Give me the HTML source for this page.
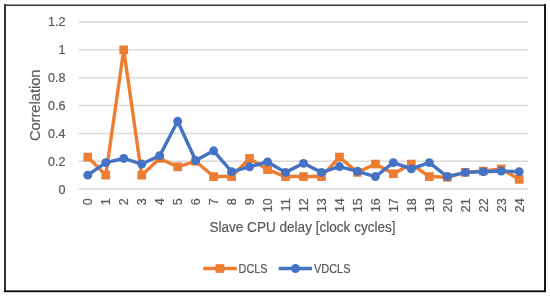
<!DOCTYPE html>
<html><head><meta charset="utf-8"><title>Chart</title>
<style>
html,body{margin:0;padding:0;background:#fff;}
body{width:550px;height:297px;overflow:hidden;}
svg{display:block;font-family:'Liberation Sans', Arial, sans-serif;}
text{stroke:#595959;stroke-width:0.2px;}
</style></head>
<body>
<svg width="550" height="297" viewBox="0 0 550 297">
<rect width="550" height="297" fill="#fff"/>
<line x1="78.80" y1="189.10" x2="528.20" y2="189.10" stroke="#D9D9D9" stroke-width="1.5"/>
<line x1="78.80" y1="161.25" x2="528.20" y2="161.25" stroke="#D9D9D9" stroke-width="1.5"/>
<line x1="78.80" y1="133.40" x2="528.20" y2="133.40" stroke="#D9D9D9" stroke-width="1.5"/>
<line x1="78.80" y1="105.55" x2="528.20" y2="105.55" stroke="#D9D9D9" stroke-width="1.5"/>
<line x1="78.80" y1="77.70" x2="528.20" y2="77.70" stroke="#D9D9D9" stroke-width="1.5"/>
<line x1="78.80" y1="49.85" x2="528.20" y2="49.85" stroke="#D9D9D9" stroke-width="1.5"/>
<line x1="78.80" y1="22.00" x2="528.20" y2="22.00" stroke="#D9D9D9" stroke-width="1.5"/>
<text x="65.6" y="193.64" text-anchor="end" font-size="12.6" fill="#595959">0</text>
<text x="65.6" y="165.79" text-anchor="end" font-size="12.6" fill="#595959">0.2</text>
<text x="65.6" y="137.94" text-anchor="end" font-size="12.6" fill="#595959">0.4</text>
<text x="65.6" y="110.09" text-anchor="end" font-size="12.6" fill="#595959">0.6</text>
<text x="65.6" y="82.24" text-anchor="end" font-size="12.6" fill="#595959">0.8</text>
<text x="65.6" y="54.39" text-anchor="end" font-size="12.6" fill="#595959">1</text>
<text x="65.6" y="25.64" text-anchor="end" font-size="12.6" fill="#595959">1.2</text>
<text transform="translate(92.32,198.3) rotate(-90)" x="0" y="0" text-anchor="end" font-size="12.6" fill="#595959">0</text>
<text transform="translate(110.30,198.3) rotate(-90)" x="0" y="0" text-anchor="end" font-size="12.6" fill="#595959">1</text>
<text transform="translate(128.28,198.3) rotate(-90)" x="0" y="0" text-anchor="end" font-size="12.6" fill="#595959">2</text>
<text transform="translate(146.25,198.3) rotate(-90)" x="0" y="0" text-anchor="end" font-size="12.6" fill="#595959">3</text>
<text transform="translate(164.23,198.3) rotate(-90)" x="0" y="0" text-anchor="end" font-size="12.6" fill="#595959">4</text>
<text transform="translate(182.20,198.3) rotate(-90)" x="0" y="0" text-anchor="end" font-size="12.6" fill="#595959">5</text>
<text transform="translate(200.18,198.3) rotate(-90)" x="0" y="0" text-anchor="end" font-size="12.6" fill="#595959">6</text>
<text transform="translate(218.16,198.3) rotate(-90)" x="0" y="0" text-anchor="end" font-size="12.6" fill="#595959">7</text>
<text transform="translate(236.13,198.3) rotate(-90)" x="0" y="0" text-anchor="end" font-size="12.6" fill="#595959">8</text>
<text transform="translate(254.11,198.3) rotate(-90)" x="0" y="0" text-anchor="end" font-size="12.6" fill="#595959">9</text>
<text transform="translate(272.08,198.3) rotate(-90)" x="0" y="0" text-anchor="end" font-size="12.6" fill="#595959">10</text>
<text transform="translate(290.06,198.3) rotate(-90)" x="0" y="0" text-anchor="end" font-size="12.6" fill="#595959">11</text>
<text transform="translate(308.04,198.3) rotate(-90)" x="0" y="0" text-anchor="end" font-size="12.6" fill="#595959">12</text>
<text transform="translate(326.01,198.3) rotate(-90)" x="0" y="0" text-anchor="end" font-size="12.6" fill="#595959">13</text>
<text transform="translate(343.99,198.3) rotate(-90)" x="0" y="0" text-anchor="end" font-size="12.6" fill="#595959">14</text>
<text transform="translate(361.96,198.3) rotate(-90)" x="0" y="0" text-anchor="end" font-size="12.6" fill="#595959">15</text>
<text transform="translate(379.94,198.3) rotate(-90)" x="0" y="0" text-anchor="end" font-size="12.6" fill="#595959">16</text>
<text transform="translate(397.92,198.3) rotate(-90)" x="0" y="0" text-anchor="end" font-size="12.6" fill="#595959">17</text>
<text transform="translate(415.89,198.3) rotate(-90)" x="0" y="0" text-anchor="end" font-size="12.6" fill="#595959">18</text>
<text transform="translate(433.87,198.3) rotate(-90)" x="0" y="0" text-anchor="end" font-size="12.6" fill="#595959">19</text>
<text transform="translate(451.84,198.3) rotate(-90)" x="0" y="0" text-anchor="end" font-size="12.6" fill="#595959">20</text>
<text transform="translate(469.82,198.3) rotate(-90)" x="0" y="0" text-anchor="end" font-size="12.6" fill="#595959">21</text>
<text transform="translate(487.80,198.3) rotate(-90)" x="0" y="0" text-anchor="end" font-size="12.6" fill="#595959">22</text>
<text transform="translate(505.77,198.3) rotate(-90)" x="0" y="0" text-anchor="end" font-size="12.6" fill="#595959">23</text>
<text transform="translate(523.75,198.3) rotate(-90)" x="0" y="0" text-anchor="end" font-size="12.6" fill="#595959">24</text>
<polyline points="87.79,157.07 105.76,175.17 123.74,49.85 141.72,175.17 159.69,158.47 177.67,166.82 195.64,161.25 213.62,176.57 231.60,176.57 249.57,158.47 267.55,169.60 285.52,176.57 303.50,176.57 321.48,176.57 339.45,157.07 357.43,172.39 375.40,164.03 393.38,173.78 411.36,164.03 429.33,176.57 447.31,177.26 465.28,172.39 483.26,171.00 501.24,168.91 519.21,179.35" fill="none" stroke="#ED7D31" stroke-width="3.4" stroke-linejoin="round" stroke-linecap="round"/>
<rect x="83.44" y="152.72" width="8.7" height="8.7" fill="#ED7D31"/>
<rect x="101.41" y="170.82" width="8.7" height="8.7" fill="#ED7D31"/>
<rect x="119.39" y="45.50" width="8.7" height="8.7" fill="#ED7D31"/>
<rect x="137.37" y="170.82" width="8.7" height="8.7" fill="#ED7D31"/>
<rect x="155.34" y="154.12" width="8.7" height="8.7" fill="#ED7D31"/>
<rect x="173.32" y="162.47" width="8.7" height="8.7" fill="#ED7D31"/>
<rect x="191.29" y="156.90" width="8.7" height="8.7" fill="#ED7D31"/>
<rect x="209.27" y="172.22" width="8.7" height="8.7" fill="#ED7D31"/>
<rect x="227.25" y="172.22" width="8.7" height="8.7" fill="#ED7D31"/>
<rect x="245.22" y="154.12" width="8.7" height="8.7" fill="#ED7D31"/>
<rect x="263.20" y="165.25" width="8.7" height="8.7" fill="#ED7D31"/>
<rect x="281.17" y="172.22" width="8.7" height="8.7" fill="#ED7D31"/>
<rect x="299.15" y="172.22" width="8.7" height="8.7" fill="#ED7D31"/>
<rect x="317.13" y="172.22" width="8.7" height="8.7" fill="#ED7D31"/>
<rect x="335.10" y="152.72" width="8.7" height="8.7" fill="#ED7D31"/>
<rect x="353.08" y="168.04" width="8.7" height="8.7" fill="#ED7D31"/>
<rect x="371.05" y="159.69" width="8.7" height="8.7" fill="#ED7D31"/>
<rect x="389.03" y="169.43" width="8.7" height="8.7" fill="#ED7D31"/>
<rect x="407.01" y="159.69" width="8.7" height="8.7" fill="#ED7D31"/>
<rect x="424.98" y="172.22" width="8.7" height="8.7" fill="#ED7D31"/>
<rect x="442.96" y="172.91" width="8.7" height="8.7" fill="#ED7D31"/>
<rect x="460.93" y="168.04" width="8.7" height="8.7" fill="#ED7D31"/>
<rect x="478.91" y="166.65" width="8.7" height="8.7" fill="#ED7D31"/>
<rect x="496.89" y="164.56" width="8.7" height="8.7" fill="#ED7D31"/>
<rect x="514.86" y="175.00" width="8.7" height="8.7" fill="#ED7D31"/>
<polyline points="87.79,175.17 105.76,162.64 123.74,158.47 141.72,164.03 159.69,155.68 177.67,121.29 195.64,160.55 213.62,150.81 231.60,171.69 249.57,166.82 267.55,161.95 285.52,172.39 303.50,163.34 321.48,172.39 339.45,166.54 357.43,171.28 375.40,176.57 393.38,162.64 411.36,168.91 429.33,162.64 447.31,176.57 465.28,172.39 483.26,171.69 501.24,171.00 519.21,171.69" fill="none" stroke="#4472C4" stroke-width="3.4" stroke-linejoin="round" stroke-linecap="round"/>
<circle cx="87.79" cy="175.17" r="4.45" fill="#4472C4"/>
<circle cx="105.76" cy="162.64" r="4.45" fill="#4472C4"/>
<circle cx="123.74" cy="158.47" r="4.45" fill="#4472C4"/>
<circle cx="141.72" cy="164.03" r="4.45" fill="#4472C4"/>
<circle cx="159.69" cy="155.68" r="4.45" fill="#4472C4"/>
<circle cx="177.67" cy="121.29" r="4.45" fill="#4472C4"/>
<circle cx="195.64" cy="160.55" r="4.45" fill="#4472C4"/>
<circle cx="213.62" cy="150.81" r="4.45" fill="#4472C4"/>
<circle cx="231.60" cy="171.69" r="4.45" fill="#4472C4"/>
<circle cx="249.57" cy="166.82" r="4.45" fill="#4472C4"/>
<circle cx="267.55" cy="161.95" r="4.45" fill="#4472C4"/>
<circle cx="285.52" cy="172.39" r="4.45" fill="#4472C4"/>
<circle cx="303.50" cy="163.34" r="4.45" fill="#4472C4"/>
<circle cx="321.48" cy="172.39" r="4.45" fill="#4472C4"/>
<circle cx="339.45" cy="166.54" r="4.45" fill="#4472C4"/>
<circle cx="357.43" cy="171.28" r="4.45" fill="#4472C4"/>
<circle cx="375.40" cy="176.57" r="4.45" fill="#4472C4"/>
<circle cx="393.38" cy="162.64" r="4.45" fill="#4472C4"/>
<circle cx="411.36" cy="168.91" r="4.45" fill="#4472C4"/>
<circle cx="429.33" cy="162.64" r="4.45" fill="#4472C4"/>
<circle cx="447.31" cy="176.57" r="4.45" fill="#4472C4"/>
<circle cx="465.28" cy="172.39" r="4.45" fill="#4472C4"/>
<circle cx="483.26" cy="171.69" r="4.45" fill="#4472C4"/>
<circle cx="501.24" cy="171.00" r="4.45" fill="#4472C4"/>
<circle cx="519.21" cy="171.69" r="4.45" fill="#4472C4"/>
<text transform="translate(40.1,105.3) rotate(-90)" text-anchor="middle" font-size="14" fill="#595959" stroke="none" textLength="71.6" lengthAdjust="spacingAndGlyphs">Correlation</text>
<text x="302.5" y="232.2" text-anchor="middle" font-size="14" fill="#595959" stroke="none" textLength="186.2" lengthAdjust="spacingAndGlyphs">Slave CPU delay [clock cycles]</text>
<line x1="203.3" y1="268.5" x2="236.8" y2="268.5" stroke="#ED7D31" stroke-width="3.4"/>
<rect x="215.55" y="264.15" width="8.7" height="8.7" fill="#ED7D31"/>
<text x="238.6" y="272.6" font-size="12" fill="#595959" textLength="29" lengthAdjust="spacingAndGlyphs">DCLS</text>
<line x1="278.7" y1="268.5" x2="312.1" y2="268.5" stroke="#4472C4" stroke-width="3.4"/>
<circle cx="295.5" cy="268.5" r="4.45" fill="#4472C4"/>
<text x="314.0" y="272.6" font-size="12" fill="#595959" textLength="36.5" lengthAdjust="spacingAndGlyphs">VDCLS</text>
<rect x="4" y="4" width="2" height="288" fill="#333"/>
<rect x="4" y="4.4" width="542" height="1.7" fill="#444"/>
<rect x="544" y="4" width="2" height="288" fill="#1a1a1a"/>
<rect x="4" y="290.4" width="542" height="1.8" fill="#050505"/>
</svg>
</body></html>
